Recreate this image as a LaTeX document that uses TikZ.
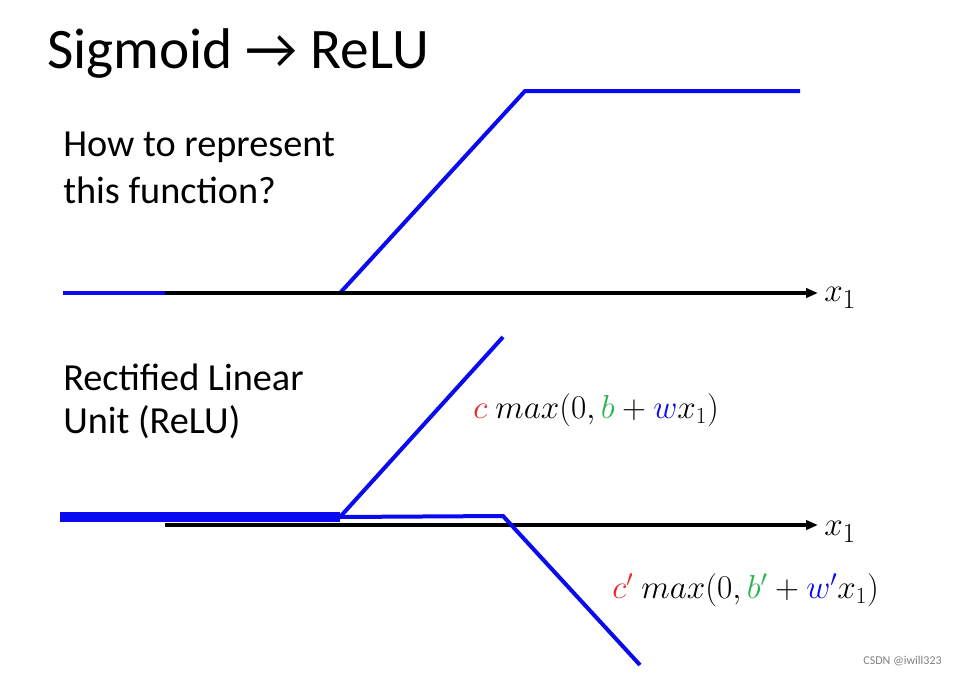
\documentclass[tikz,border=0pt]{standalone}
\usepackage{fontspec}
\setmainfont{Carlito}
\usetikzlibrary{arrows.meta}
\definecolor{fb}{RGB}{10,10,240}
\definecolor{fr}{RGB}{235,40,40}
\definecolor{fg}{RGB}{40,180,80}
\begin{document}
\begin{tikzpicture}[x=0.75pt,y=-0.75pt,
  blu/.style={fb,line width=3pt},
  ax/.style={black,line width=2.3pt,-{Triangle[length=9pt,width=7pt]}},
  txt/.style={anchor=west,inner sep=0,font=\fontsize{28.7}{32}\selectfont},
  lab/.style={inner sep=0,font=\fontsize{27}{30}\selectfont}]
\useasboundingbox[fill=white] (0,0) rectangle (957,675);
\node[anchor=west,inner sep=0,font=\fontsize{43}{48}\selectfont] (title) at (47,54) {Sigmoid → ReLU};
\node[txt] (q1) at (63,147) {How to represent};
\node[txt] (q2) at (63,190) {this function?};
\node[txt] (r1) at (63,377) {Rectified Linear};
\node[txt] (r2) at (63,422) {Unit (ReLU)};
% top
\coordinate (t0) at (63,293); \coordinate (t1) at (165,293); \coordinate (t2) at (340,293);
\coordinate (t3) at (525,91); \coordinate (t4) at (800,91); \coordinate (tend) at (818,293);
\draw[blu] (t0) -- (t1);
\draw[blu] (t2) -- (t3) -- (t4);
\draw[ax] (t1) -- (tend);
\node[lab,anchor=west,font=\fontsize{30}{32}\selectfont] (x1a) at (824,298) {$x_1$};
% bottom
\coordinate (b0) at (60,517); \coordinate (b1) at (340,517); \coordinate (b2) at (503,337);
\coordinate (b3) at (503,516); \coordinate (b4) at (640,665);
\coordinate (a0) at (165,525); \coordinate (aend) at (818,525);
\draw[ax] (a0) -- (aend);
\draw[fb,line width=7pt] (b0) -- (b1);
\draw[blu] (b1) -- (b2);
\draw[blu] (b1) -- (b3) -- (b4);
\node[lab,anchor=west,font=\fontsize{30}{32}\selectfont] (x1b) at (824,532) {$x_1$};
\node[lab,anchor=west] (f1) at (473,410) {$\color{fr}c\ \color{black}max(0,\color{fg}b\color{black}+\color{fb}w\color{black}x_1)$};
\node[lab,anchor=west] (f2) at (612,590) {$\color{fr}c'\ \color{black}max(0,\color{fg}b'\color{black}+\color{fb}w'\color{black}x_1)$};
\node[anchor=east,inner sep=0,text=gray,font=\fontsize{9}{11}\selectfont] (wm) at (942,661) {CSDN @iwill323};
\end{tikzpicture}
\end{document}
